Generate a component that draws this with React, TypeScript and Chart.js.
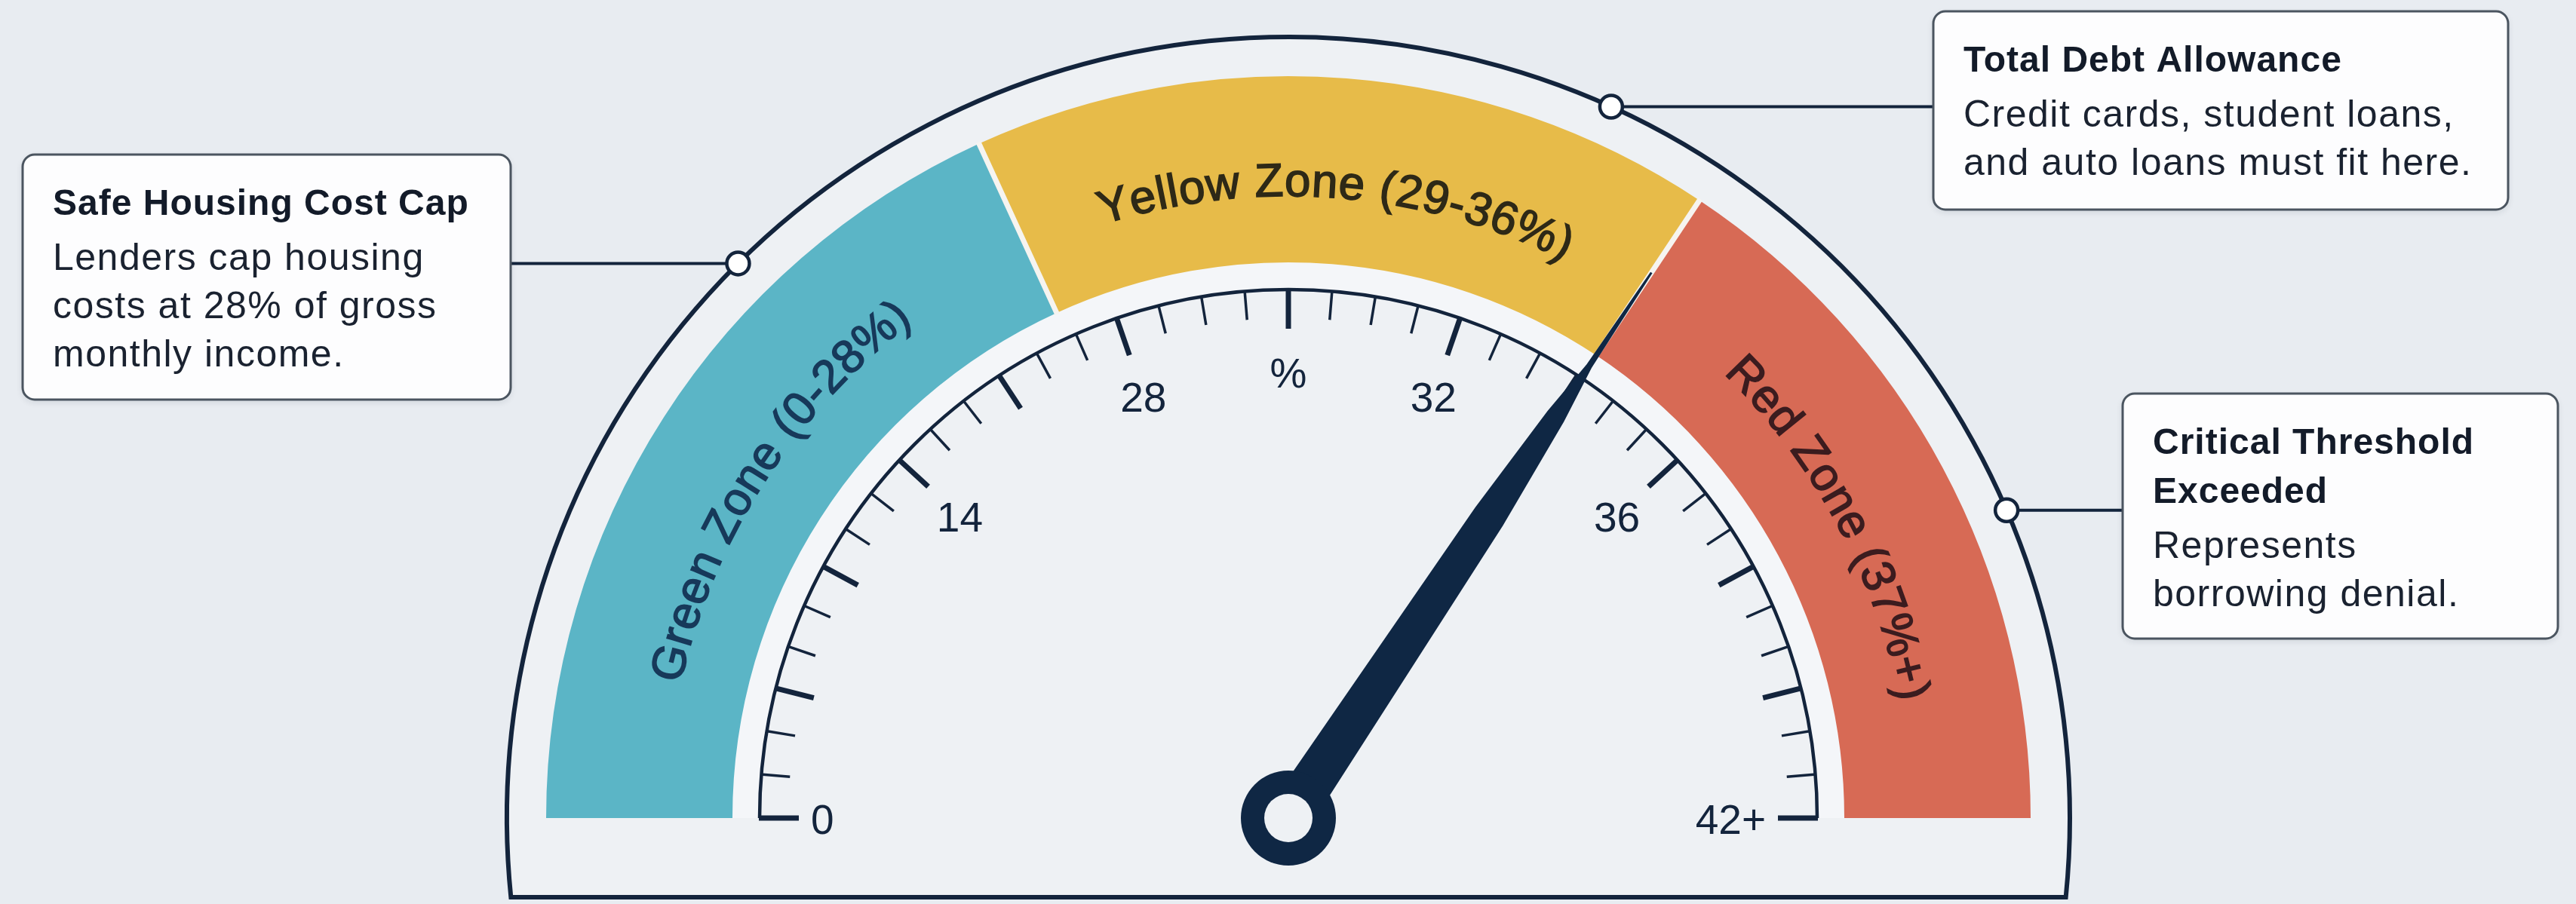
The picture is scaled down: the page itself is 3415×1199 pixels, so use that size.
import React, { useEffect, useRef } from 'react';
import { Chart, registerables } from 'chart.js';

Chart.register(...registerables);

// ---------- data ----------
// The dial is divided into 38 equal tick steps over the half circle.
const dialSteps = 38;
const zoneLabels = ['Green Zone (0-28%)', 'Yellow Zone (29-36%)', 'Red Zone (37%+)'];
const zoneSpans = [13.8, 12.3, 11.9]; // in dial steps
const zoneColors = ['#5bb5c6', '#e7bb49', '#d76a55'];
const zoneTextColors = ['#17395a', '#2e2917', '#3b1c1f'];

const majorTickSteps = [0, 3, 6, 9, 12, 15, 19, 23, 26, 29, 32, 35, 38];
const tickLabels = ['0', '14', '28', '%', '32', '36', '42+'];
const tickLabelSteps = [0, 9, 15, 19, 23, 29, 38];

const needleValue = 26.1; // dial steps

const calloutTitles = [
  ['Safe Housing Cost Cap'],
  ['Total Debt Allowance'],
  ['Critical Threshold', 'Exceeded'],
];
const calloutBodies = [
  ['Lenders cap housing', 'costs at 28% of gross', 'monthly income.'],
  ['Credit cards, student loans,', 'and auto loans must fit here.'],
  ['Represents', 'borrowing denial.'],
];
const calloutAnchors = [9.55, 24.15, 33.1]; // dial steps on the outer rim

// ---------- layout / style ----------
const FONT = '"Liberation Sans", Arial, Helvetica, sans-serif';
const NAVY = '#13243c';
const BG = '#e8ecf1';
const DIAL_BG = '#eef1f4';
const calloutBoxes = [
  { x: 30, y: 205, w: 647, h: 325, side: 'right' },
  { x: 2563, y: 15, w: 762, h: 263, side: 'left' },
  { x: 2814, y: 522, w: 577, h: 325, side: 'left' },
];

const angleOf = (u: number) => Math.PI + (u / dialSteps) * Math.PI;

function drawArcText(ctx: CanvasRenderingContext2D, text: string, cx: number, cy: number, r: number, center: number, spacing: number) {
  const chars = Array.from(text);
  const widths = chars.map((c) => ctx.measureText(c).width + spacing);
  const total = widths.reduce((a, b) => a + b, 0) - spacing;
  let a = center - total / r / 2;
  ctx.textAlign = 'center';
  ctx.textBaseline = 'middle';
  chars.forEach((ch, i) => {
    const w = widths[i] - spacing;
    const ang = a + w / 2 / r;
    ctx.save();
    ctx.translate(cx + r * Math.cos(ang), cy + r * Math.sin(ang));
    ctx.rotate(ang + Math.PI / 2);
    ctx.fillText(ch, 0, 0);
    ctx.strokeText(ch, 0, 0);
    ctx.restore();
    a += widths[i] / r;
  });
}

const gaugePlugin = {
  id: 'gaugeExtras',
  beforeDatasetsDraw(chart: any) {
    const ctx: CanvasRenderingContext2D = chart.ctx;
    const arc = chart.getDatasetMeta(0).data[0];
    const cx = arc.x, cy = arc.y;
    const k = arc.outerRadius / 984;
    const Ro = 1036 * k;
    const drop = 105 * k;
    const a = Math.asin(drop / Ro);
    ctx.save();
    ctx.fillStyle = BG;
    ctx.fillRect(0, 0, chart.width, chart.height);
    // dial face
    ctx.beginPath();
    ctx.arc(cx, cy, Ro, Math.PI - a, a, false);
    ctx.closePath();
    ctx.fillStyle = DIAL_BG;
    ctx.fill();
    ctx.lineWidth = 6;
    ctx.strokeStyle = NAVY;
    ctx.lineJoin = 'miter';
    ctx.stroke();
    // soft light ring between band and scale
    ctx.beginPath();
    ctx.arc(cx, cy, 740 * k, Math.PI, 2 * Math.PI);
    ctx.arc(cx, cy, 703 * k, 2 * Math.PI, Math.PI, true);
    ctx.closePath();
    ctx.fillStyle = '#f4f6f9';
    ctx.fill();
    ctx.restore();
  },
  afterDatasetsDraw(chart: any) {
    const ctx: CanvasRenderingContext2D = chart.ctx;
    const meta = chart.getDatasetMeta(0);
    const arc0 = meta.data[0];
    const cx = arc0.x, cy = arc0.y;
    const Rb = arc0.outerRadius, Ri = arc0.innerRadius;
    const k = Rb / 984;
    ctx.save();

    // zone separators
    ctx.strokeStyle = '#f6f4f0';
    ctx.lineWidth = 7;
    meta.data.slice(1).forEach((el: any) => {
      const t = el.startAngle;
      ctx.beginPath();
      ctx.moveTo(cx + (Ri - 2) * Math.cos(t), cy + (Ri - 2) * Math.sin(t));
      ctx.lineTo(cx + (Rb + 2) * Math.cos(t), cy + (Rb + 2) * Math.sin(t));
      ctx.stroke();
    });

    // zone labels along the band
    ctx.font = `${Math.round(62 * k)}px ${FONT}`;
    ctx.lineWidth = 1.6;
    meta.data.forEach((el: any, i: number) => {
      ctx.fillStyle = zoneTextColors[i];
      ctx.strokeStyle = zoneTextColors[i];
      drawArcText(ctx, zoneLabels[i], cx, cy, 842 * k, (el.startAngle + el.endAngle) / 2, 1.5);
    });

    // scale arc
    const Rt = 701 * k;
    ctx.strokeStyle = NAVY;
    ctx.lineWidth = 4.5;
    ctx.beginPath();
    ctx.arc(cx, cy, Rt, Math.PI, 2 * Math.PI);
    ctx.stroke();
    // ticks
    ctx.lineCap = 'butt';
    for (let i = 0; i <= dialSteps; i++) {
      const major = majorTickSteps.includes(i);
      const len = (major ? 52 : 38) * k;
      const t = angleOf(i);
      ctx.lineWidth = major ? 7 : 3.5;
      ctx.beginPath();
      ctx.moveTo(cx + (Rt + 1) * Math.cos(t), cy + (Rt + 1) * Math.sin(t));
      ctx.lineTo(cx + (Rt - len) * Math.cos(t), cy + (Rt - len) * Math.sin(t));
      ctx.stroke();
    }
    // tick labels
    ctx.fillStyle = NAVY;
    ctx.font = `${Math.round(55 * k)}px ${FONT}`;
    ctx.textBaseline = 'middle';
    tickLabels.forEach((lab, i) => {
      const step = tickLabelSteps[i];
      const t = angleOf(step);
      let r = 592 * k;
      ctx.textAlign = 'center';
      if (step === 0) { ctx.textAlign = 'left'; r = 633 * k; }
      if (step === dialSteps) { ctx.textAlign = 'right'; r = 633 * k; }
      ctx.fillText(lab, cx + r * Math.cos(t), cy + r * Math.sin(t) + 6);
    });

    // needle
    const tn = angleOf(needleValue);
    const dx = Math.cos(tn), dy = Math.sin(tn);
    const px = -dy, py = dx;
    const prof = [[0, 30], [480, 22], [640, 13], [720, 4], [869, 1.5]];
    ctx.beginPath();
    prof.forEach(([s, w], i) => {
      const x = cx + dx * s * k + px * w * k, y = cy + dy * s * k + py * w * k;
      if (i === 0) ctx.moveTo(x, y); else ctx.lineTo(x, y);
    });
    prof.slice().reverse().forEach(([s, w]) => {
      ctx.lineTo(cx + dx * s * k - px * w * k, cy + dy * s * k - py * w * k);
    });
    ctx.closePath();
    ctx.fillStyle = '#0f2744';
    ctx.fill();
    // hub
    ctx.beginPath();
    ctx.arc(cx, cy, 63 * k, 0, 2 * Math.PI);
    ctx.fill();
    ctx.beginPath();
    ctx.arc(cx, cy, 32 * k, 0, 2 * Math.PI);
    ctx.fillStyle = DIAL_BG;
    ctx.fill();

    // callouts
    const Ro = 1036 * k;
    calloutAnchors.forEach((u, i) => {
      const t = angleOf(u);
      const mx = cx + Ro * Math.cos(t), my = cy + Ro * Math.sin(t);
      const b = calloutBoxes[i];
      const ex = b.side === 'right' ? b.x + b.w : b.x;
      ctx.strokeStyle = NAVY;
      ctx.lineWidth = 4;
      ctx.beginPath();
      ctx.moveTo(mx, my);
      ctx.lineTo(ex, my);
      ctx.stroke();
      // box
      ctx.save();
      ctx.shadowColor = 'rgba(20,30,50,0.12)';
      ctx.shadowBlur = 10;
      ctx.shadowOffsetY = 3;
      ctx.beginPath();
      ctx.roundRect(b.x, b.y, b.w, b.h, 16);
      ctx.fillStyle = '#fdfdfe';
      ctx.fill();
      ctx.restore();
      ctx.beginPath();
      ctx.roundRect(b.x, b.y, b.w, b.h, 16);
      ctx.strokeStyle = '#4b5560';
      ctx.lineWidth = 3;
      ctx.stroke();
      // text
      ctx.textAlign = 'left';
      ctx.textBaseline = 'alphabetic';
      let y = b.y + 80;
      const tx = b.x + 40;
      ctx.fillStyle = '#131b29';
      ctx.font = `bold 48px ${FONT}`;
      (ctx as any).letterSpacing = '1px';
      calloutTitles[i].forEach((line, j) => {
        if (j > 0) y += 65;
        ctx.fillText(line, tx, y);
      });
      y += 73;
      ctx.fillStyle = '#1a2230';
      ctx.font = `50px ${FONT}`;
      (ctx as any).letterSpacing = '1.5px';
      calloutBodies[i].forEach((line, j) => {
        if (j > 0) y += 64;
        ctx.fillText(line, tx, y);
      });
      (ctx as any).letterSpacing = '0px';
      // marker
      ctx.beginPath();
      ctx.arc(mx, my, 15, 0, 2 * Math.PI);
      ctx.fillStyle = '#ffffff';
      ctx.fill();
      ctx.strokeStyle = NAVY;
      ctx.lineWidth = 4.5;
      ctx.stroke();
    });
    ctx.restore();
  },
};

export default function App() {
  const ref = useRef<HTMLCanvasElement>(null);
  useEffect(() => {
    document.body.style.margin = '0';
    document.body.style.background = BG;
    const chart = new Chart(ref.current as HTMLCanvasElement, {
      type: 'doughnut',
      data: {
        labels: zoneLabels,
        datasets: [{ data: zoneSpans, backgroundColor: zoneColors, borderWidth: 0 }],
      },
      options: {
        responsive: false,
        animation: false,
        events: [],
        rotation: -90,
        circumference: 180,
        cutout: '74.9%',
        radius: 984,
        layout: { padding: { left: 1, right: 0, top: 0, bottom: 13 } },
        plugins: { legend: { display: false }, tooltip: { enabled: false } },
      } as any,
      plugins: [gaugePlugin as any],
    });
    return () => chart.destroy();
  }, []);
  return (
    <div style={{ width: 3415, height: 1199, overflow: 'hidden' }}>
      <canvas ref={ref} width={3415} height={1199} style={{ display: 'block', width: 3415, height: 1199 }} />
    </div>
  );
}
